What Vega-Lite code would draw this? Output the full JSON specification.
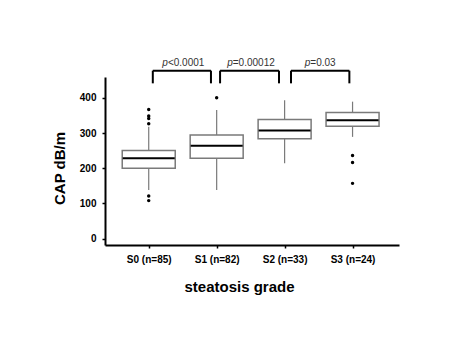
{
  "$schema": "https://vega.github.io/schema/vega-lite/v6.json",
  "autosize": {"type": "none"},
  "width": 294,
  "height": 168,
  "padding": {"left": 105, "top": 77, "right": 75, "bottom": 108},
  "background": "white",
  "config": {
    "view": {"stroke": null},
    "font": "Liberation Sans"
  },
  "datasets": {
    "boxes": [
      {"g": 0, "lower": 138, "q1": 200, "median": 228, "q3": 250, "upper": 318},
      {"g": 1, "lower": 138, "q1": 228, "median": 264, "q3": 294, "upper": 365},
      {"g": 2, "lower": 214, "q1": 284, "median": 307, "q3": 338, "upper": 393},
      {"g": 3, "lower": 289, "q1": 319, "median": 336, "q3": 358, "upper": 389}
    ],
    "outliers": [
      {"g": 0, "v": 108}, {"g": 0, "v": 121}, {"g": 0, "v": 326}, {"g": 0, "v": 341},
      {"g": 0, "v": 348}, {"g": 0, "v": 367}, {"g": 1, "v": 400},
      {"g": 3, "v": 157}, {"g": 3, "v": 216}, {"g": 3, "v": 236}
    ],
    "brackets": [
      {"x1": 0.06, "x2": 0.916, "top": 477, "bottom": 441, "split": 0.282, "rest": "<0.0001"},
      {"x1": 1.05, "x2": 1.917, "top": 477, "bottom": 441, "split": 1.237, "rest": "=0.00012"},
      {"x1": 2.094, "x2": 2.953, "top": 477, "bottom": 441, "split": 2.378, "rest": "=0.03"}
    ]
  },
  "encoding": {
    "x": {
      "type": "quantitative",
      "scale": {"domain": [-0.57, 3.61], "nice": false, "zero": false}
    }
  },
  "layer": [
    {
      "data": {"name": "boxes"},
      "mark": {"type": "rule", "color": "#7a7a7a", "strokeWidth": 1.2},
      "encoding": {
        "x": {
          "field": "g", "type": "quantitative",
          "scale": {"domain": [-0.57, 3.61], "nice": false, "zero": false},
          "axis": {
            "values": [0, 1, 2, 3],
            "labelExpr": "['S0 (n=85)','S1 (n=82)','S2 (n=33)','S3 (n=24)'][datum.value]",
            "grid": false,
            "domainColor": "black", "domainWidth": 2,
            "tickColor": "black", "tickWidth": 1.5, "tickSize": 3,
            "labelFont": "Liberation Sans", "labelFontWeight": "bold", "labelFontSize": 10, "labelColor": "black",
            "labelPadding": 6,
            "title": "steatosis grade",
            "titleFont": "Liberation Sans", "titleFontWeight": "bold", "titleFontSize": 15, "titleColor": "black",
            "titleX": 134, "titleY": 46, "titleBaseline": "alphabetic", "titleAlign": "center"
          }
        },
        "y": {
          "field": "lower", "type": "quantitative",
          "scale": {"domain": [-18, 459], "nice": false, "zero": false},
          "axis": {
            "values": [0, 100, 200, 300, 400],
            "grid": false,
            "domainColor": "black", "domainWidth": 2,
            "tickColor": "black", "tickWidth": 1.5, "tickSize": 3,
            "labelFont": "Liberation Sans", "labelFontWeight": "bold", "labelFontSize": 10, "labelColor": "black",
            "labelPadding": 6,
            "title": "CAP dB/m",
            "titleFont": "Liberation Sans", "titleFontWeight": "bold", "titleFontSize": 15, "titleColor": "black",
            "titleX": -46, "titleY": 91, "titleAngle": -90, "titleAlign": "center", "titleBaseline": "middle"
          }
        },
        "y2": {"field": "upper"}
      }
    },
    {
      "data": {"name": "boxes"},
      "mark": {"type": "bar", "width": 53, "fill": "white", "stroke": "#7a7a7a", "strokeWidth": 1.5},
      "encoding": {
        "x": {"field": "g", "type": "quantitative"},
        "y": {"field": "q1", "type": "quantitative"},
        "y2": {"field": "q3"}
      }
    },
    {
      "data": {"name": "boxes"},
      "mark": {"type": "tick", "orient": "horizontal", "size": 52, "thickness": 2, "color": "black", "opacity": 1},
      "encoding": {
        "x": {"field": "g", "type": "quantitative"},
        "y": {"field": "median", "type": "quantitative"}
      }
    },
    {
      "data": {"name": "outliers"},
      "mark": {"type": "circle", "size": 12, "color": "black", "opacity": 1},
      "encoding": {
        "x": {"field": "g", "type": "quantitative"},
        "y": {"field": "v", "type": "quantitative"}
      }
    },
    {
      "data": {"name": "brackets"},
      "mark": {"type": "rule", "color": "black", "strokeWidth": 2},
      "encoding": {
        "x": {"field": "x1", "type": "quantitative"},
        "x2": {"field": "x2"},
        "y": {"field": "top", "type": "quantitative"}
      }
    },
    {
      "data": {"name": "brackets"},
      "mark": {"type": "rule", "color": "black", "strokeWidth": 2},
      "encoding": {
        "x": {"field": "x1", "type": "quantitative"},
        "y": {"field": "top", "type": "quantitative"},
        "y2": {"field": "bottom"}
      }
    },
    {
      "data": {"name": "brackets"},
      "mark": {"type": "rule", "color": "black", "strokeWidth": 2},
      "encoding": {
        "x": {"field": "x2", "type": "quantitative"},
        "y": {"field": "top", "type": "quantitative"},
        "y2": {"field": "bottom"}
      }
    },
    {
      "data": {"name": "brackets"},
      "mark": {"type": "text", "text": "p", "fontStyle": "italic", "fontSize": 10, "align": "right", "baseline": "alphabetic", "color": "#333", "font": "Liberation Sans"},
      "encoding": {
        "x": {"field": "split", "type": "quantitative"},
        "y": {"datum": 489, "type": "quantitative"}
      }
    },
    {
      "data": {"name": "brackets"},
      "mark": {"type": "text", "fontSize": 10, "align": "left", "baseline": "alphabetic", "color": "#333", "font": "Liberation Sans"},
      "encoding": {
        "x": {"field": "split", "type": "quantitative"},
        "y": {"datum": 489, "type": "quantitative"},
        "text": {"field": "rest"}
      }
    }
  ]
}
